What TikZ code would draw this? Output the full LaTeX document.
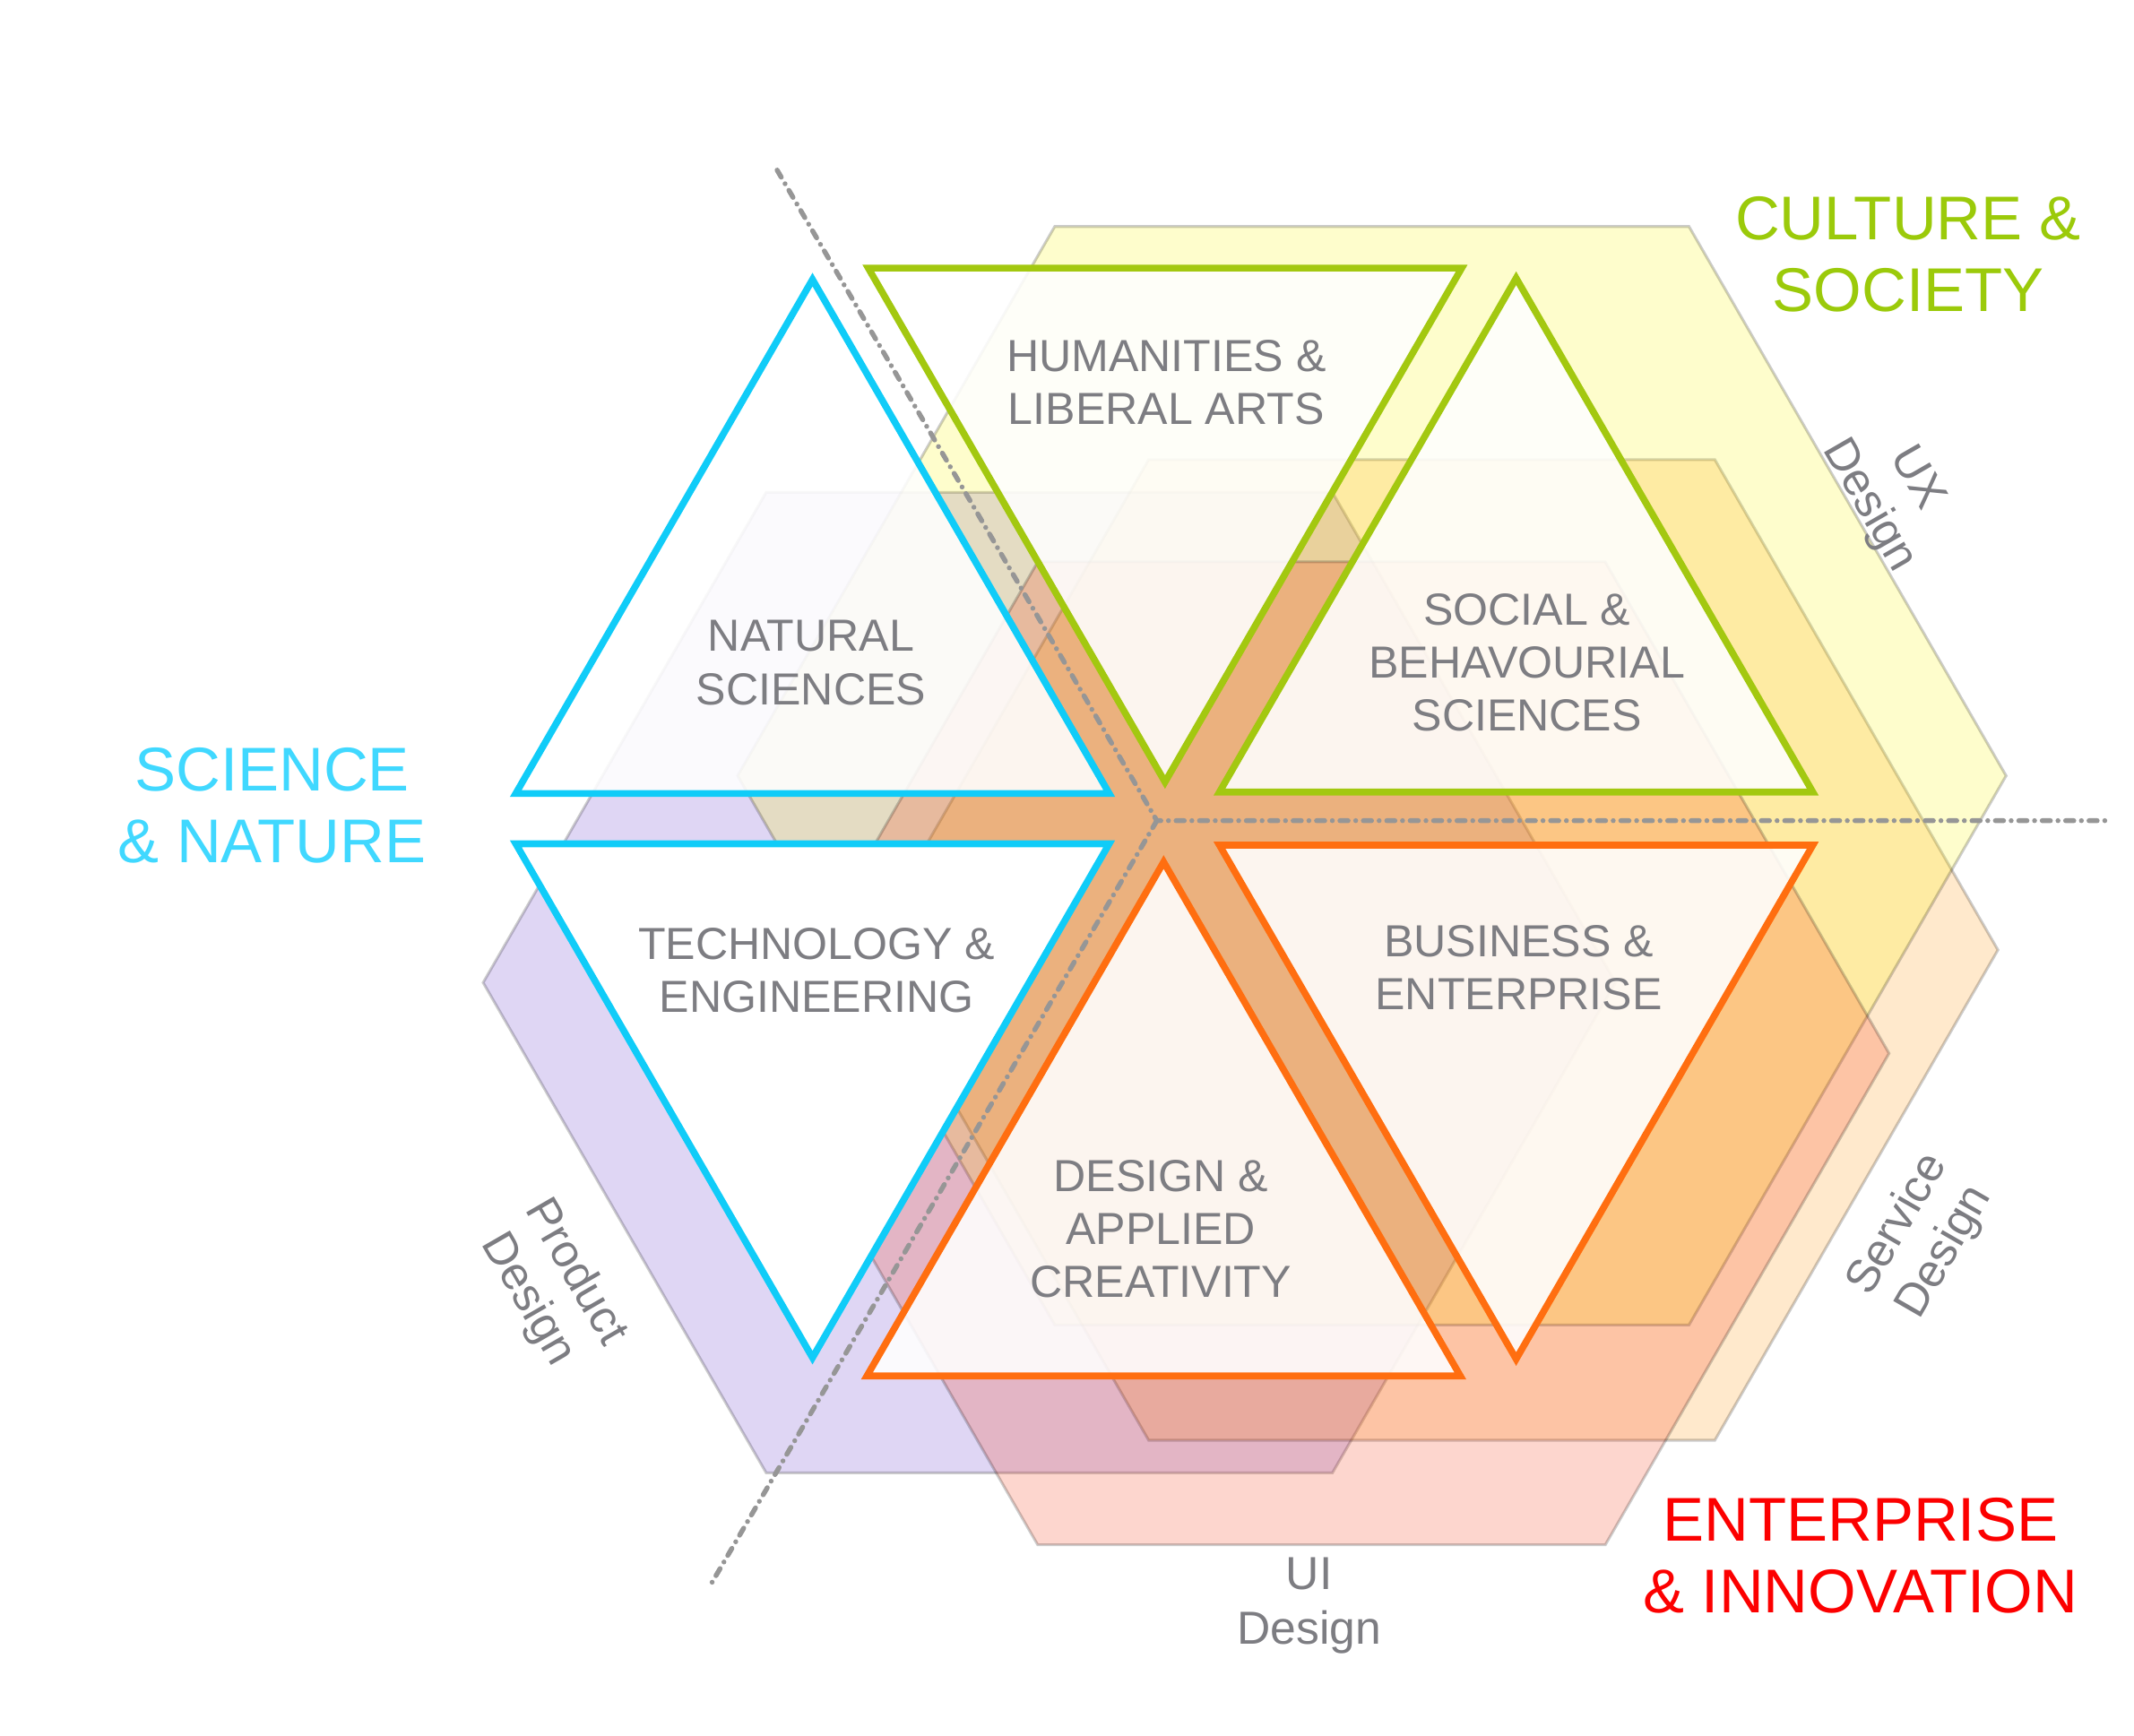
\documentclass[tikz,border=0pt]{standalone}
\usepackage{fontspec}
\setmainfont{Liberation Sans}
\definecolor{labelgray}{RGB}{125,125,130}
\definecolor{scicyan}{RGB}{64,216,255}
\definecolor{culgreen}{RGB}{155,202,10}
\definecolor{entred}{RGB}{252,0,0}
\definecolor{tricyan}{RGB}{16,204,248}
\definecolor{trigreen}{RGB}{163,200,16}
\definecolor{triorange}{RGB}{255,110,16}
\definecolor{hexgray}{RGB}{204,204,204}
\definecolor{prodsrc}{RGB}{95,50,200}
\definecolor{uisrc}{RGB}{245,50,10}
\definecolor{servsrc}{RGB}{255,145,0}
\definecolor{uxsrc}{RGB}{250,245,0}
\definecolor{dashgray}{RGB}{150,150,150}
\newcommand\drawhexagon[4]{%
  \fill[#4, fill opacity=0.2] (#1,#2) +(0:#3) -- +(60:#3) -- +(120:#3) -- +(180:#3) -- +(240:#3) -- +(300:#3) -- cycle;
  \draw[hexborder] (#1,#2) +(0:#3) -- +(60:#3) -- +(120:#3) -- +(180:#3) -- +(240:#3) -- +(300:#3) -- cycle;}
\begin{document}
\begin{tikzpicture}[x=0.5pt,y=-0.5pt,
  hexborder/.style={draw=hexgray, line width=1pt, blend mode=multiply},
  tri/.style={draw=#1, line width=2.5pt, fill=white, fill opacity=0.88},
  axisline/.style={draw=dashgray, line width=1.8pt, line cap=round, dash pattern=on 3pt off 2.8pt on 0pt off 2.8pt},
  lab/.style={text=labelgray, align=center, inner sep=0pt, font=\fontsize{16.5}{19.5}\selectfont},
  sublab/.style={text=labelgray, align=center, inner sep=0pt, font=\fontsize{17}{20}\selectfont},
  title/.style={text=#1, align=center, inner sep=0pt, font=\fontsize{22.7}{26.2}\selectfont},
]
\fill[white] (0,0) rectangle (1568,1275);
\useasboundingbox (0,0) rectangle (1568,1275);

% hexagons (product, service, UX, UI)
\drawhexagon{771}{722}{416}{prodsrc}
\drawhexagon{1052}{698}{416}{servsrc}
\drawhexagon{1008}{570}{466}{uxsrc}
\drawhexagon{971}{774}{417}{uisrc}

% triangles
\path[tri=tricyan] (379,583) -- (815,583) -- (597,205.4) -- cycle;
\path[tri=tricyan, fill opacity=1] (379,620) -- (815,620) -- (597,997.6) -- cycle;
\path[tri=trigreen] (638,197) -- (1074,197) -- (856,574.6) -- cycle;
\path[tri=trigreen] (896,582) -- (1332,582) -- (1114,204.4) -- cycle;
\path[tri=triorange] (637,1011) -- (1073,1011) -- (855,633.4) -- cycle;
\path[tri=triorange] (896,621) -- (1332,621) -- (1114,998.6) -- cycle;

% axes
\coordinate (ctr) at (850,603);
\coordinate (e1) at (571,125);
\coordinate (e2) at (1548,603);
\coordinate (e3) at (523,1163);
\draw[axisline] (e1) -- (ctr) -- (e2);
\draw[axisline] (ctr) -- (e3);

% labels
\node[lab] (hum) at (857,281) {HUMANITIES \&\\LIBERAL ARTS};
\node[lab] (nat) at (596,487) {NATURAL\\SCIENCES};
\node[lab] (soc) at (1122,487) {SOCIAL \&\\BEHAVOURIAL\\SCIENCES};
\node[lab] (tec) at (600,713) {TECHNOLOGY \&\\ENGINEERING};
\node[lab] (bus) at (1116,711) {BUSINESS \&\\ENTERPRISE};
\node[lab] (des) at (853,903) {DESIGN \&\\APPLIED\\CREATIVITY};

\node[title=scicyan] (sci) at (200,592) {SCIENCE\\\& NATURE};
\node[title=culgreen] (cul) at (1402,187) {CULTURE \&\\SOCIETY};
\node[title=entred] (ent) at (1367,1143) {ENTERPRISE\\\& INNOVATION};

\node[sublab, rotate=-60] (ux) at (1390,362) {UX\\Design};
\node[sublab, rotate=60] (serv) at (1412,910) {Service\\Design};
\node[sublab, rotate=-60] (prod) at (405,945) {Product\\Design};
\node[sublab] (ui) at (962,1180) {UI\\Design};
\end{tikzpicture}
\end{document}
